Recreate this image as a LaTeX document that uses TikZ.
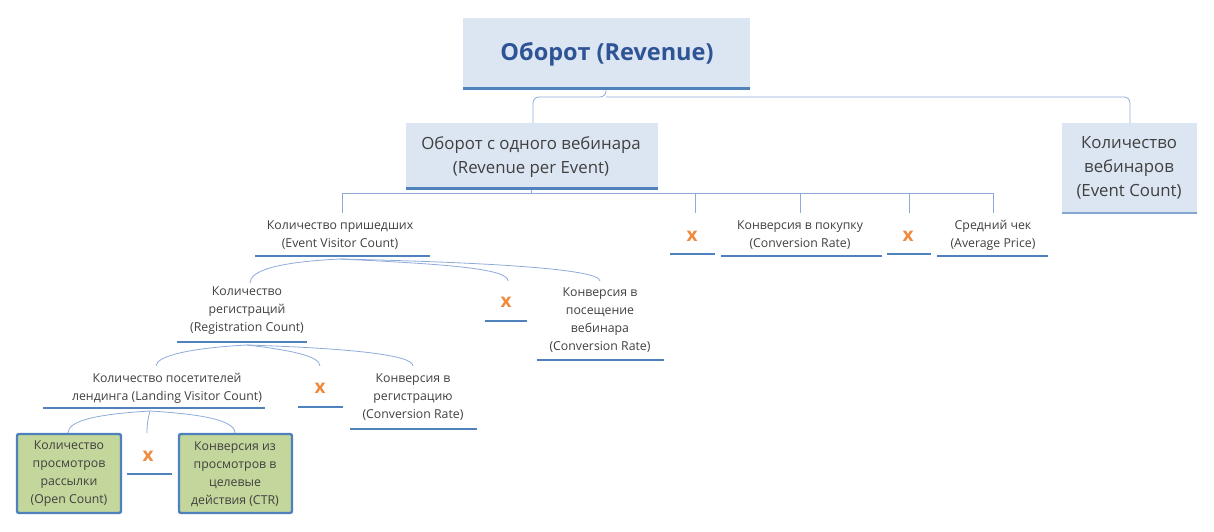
\documentclass[tikz,border=0pt]{standalone}
\usepackage{fontspec}
\setmainfont{Open Sans}
\definecolor{bar}{HTML}{4F81BD}
\definecolor{conn}{HTML}{8EAADB}
\definecolor{boxfill}{HTML}{DCE6F2}
\definecolor{txt}{HTML}{404040}
\definecolor{title}{HTML}{2F5496}
\definecolor{xor}{HTML}{F08A3C}
\definecolor{grn}{HTML}{C3D69B}
\begin{document}
\begin{tikzpicture}[x=1pt,y=-1pt,
  lbl/.style={text=txt,font=\fontsize{12.3}{18}\selectfont,align=center,inner sep=0},
  big/.style={text=txt,font=\fontsize{16.8}{24}\selectfont,align=center,inner sep=0},
  barl/.style={draw=bar,line width=2.8pt},
  cn/.style={draw=conn,line width=0.8pt},
  xx/.style={text=xor,font=\fontsize{19}{19}\selectfont\bfseries,inner sep=0},
  gbox/.style={draw=bar,line width=2.4pt,fill=grn,rounded corners=2pt}]
\useasboundingbox (0,0) rectangle (1214,532);
% top
\fill[boxfill] (463,18) rectangle (750,90);
\draw[barl] (463,88.5) -- (750,88.5);
\node[text=title,font=\fontsize{23.5}{26}\selectfont\bfseries] (rev) at (607,54) {Оборот (Revenue)};
\fill[boxfill] (406,123) rectangle (658,190);
\draw[barl] (406,188.5) -- (658,188.5);
\node[big] (rpe) at (531,157) {Оборот с одного вебинара\\(Revenue per Event)};
\fill[boxfill] (1062,123) rectangle (1197,213);
\draw[draw=bar!70,line width=1.5pt] (1062,213) -- (1197,213);
\node[big] (ec) at (1129,168) {Количество\\вебинаров\\(Event Count)};
\coordinate (t0) at (606,90);
\draw[cn,rounded corners=6pt] (t0) -- (606,97) -| (533,123);
\draw[cn,rounded corners=6pt] (606,97) -| (1130,123);
% level 2
\coordinate (r0) at (531,190);
\draw[cn] (r0) -- (531,193);
\draw[cn] (342,213) -- (342,193) -- (993,193) -- (993,213);
\foreach \xx in {695,800,909} \draw[cn] (\xx,193) -- (\xx,213);
\node[lbl] (evc) at (340,235) {Количество пришедших\\(Event Visitor Count)};
\draw[barl] (255,256) -- (430,256);
\node[xx] (x1) at (692,236) {x};
\draw[barl] (670,254) -- (715,254);
\node[lbl] (cr1) at (800,235) {Конверсия в покупку\\(Conversion Rate)};
\draw[barl] (721,256) -- (882,256);
\node[xx] (x2) at (908,236) {x};
\draw[barl] (887,254) -- (931,254);
\node[lbl] (avg) at (993,235) {Средний чек\\(Average Price)};
\draw[barl] (937,256) -- (1048,256);
% level 3
\coordinate (e0) at (340,259);
\draw[cn] (e0) .. controls (280,262) and (250,270) .. (250,283);
\draw[cn] (e0) .. controls (440,264) and (508,268) .. (508,281);
\draw[cn] (e0) .. controls (470,262) and (600,268) .. (600,281);
\node[lbl] (reg) at (247,311) {Количество\\регистраций\\(Registration Count)};
\draw[barl] (177,342) -- (307,342);
\node[xx] (x3) at (506,302) {x};
\draw[barl] (485,321) -- (527,321);
\node[lbl] (cv) at (600,320) {Конверсия в\\посещение\\вебинара\\(Conversion Rate)};
\draw[barl] (537,360) -- (664,360);
% level 4
\coordinate (g0) at (247,345);
\draw[cn] (g0) .. controls (190,348) and (156,356) .. (156,366);
\draw[cn] (g0) .. controls (290,350) and (320,356) .. (320,366);
\draw[cn] (g0) .. controls (340,348) and (413,354) .. (413,366);
\node[lbl] (land) at (167,388) {Количество посетителей\\лендинга (Landing Visitor Count)};
\draw[barl] (43,408) -- (265,408);
\node[xx] (x4) at (320,388) {x};
\draw[barl] (298,407) -- (343,407);
\node[lbl] (cr2) at (413,397) {Конверсия в\\регистрацию\\(Conversion Rate)};
\draw[barl] (350,429) -- (477,429);
% level 5
\coordinate (l0) at (150,411);
\draw[cn] (l0) .. controls (100,414) and (68,420) .. (68,433);
\draw[cn] (l0) .. controls (148,418) and (147,424) .. (147,433);
\draw[cn] (l0) .. controls (200,414) and (235,420) .. (235,433);
\draw[gbox] (17,434) rectangle (121,513);
\node[lbl] (oc) at (69,474) {Количество\\просмотров\\рассылки\\(Open Count)};
\node[xx] (x5) at (148,456) {x};
\draw[barl] (127,474) -- (172,474);
\draw[gbox] (179,434) rectangle (292,513);
\node[lbl] (ctr) at (235,474) {Конверсия из\\просмотров в\\целевые\\действия (CTR)};
\end{tikzpicture}
\end{document}
